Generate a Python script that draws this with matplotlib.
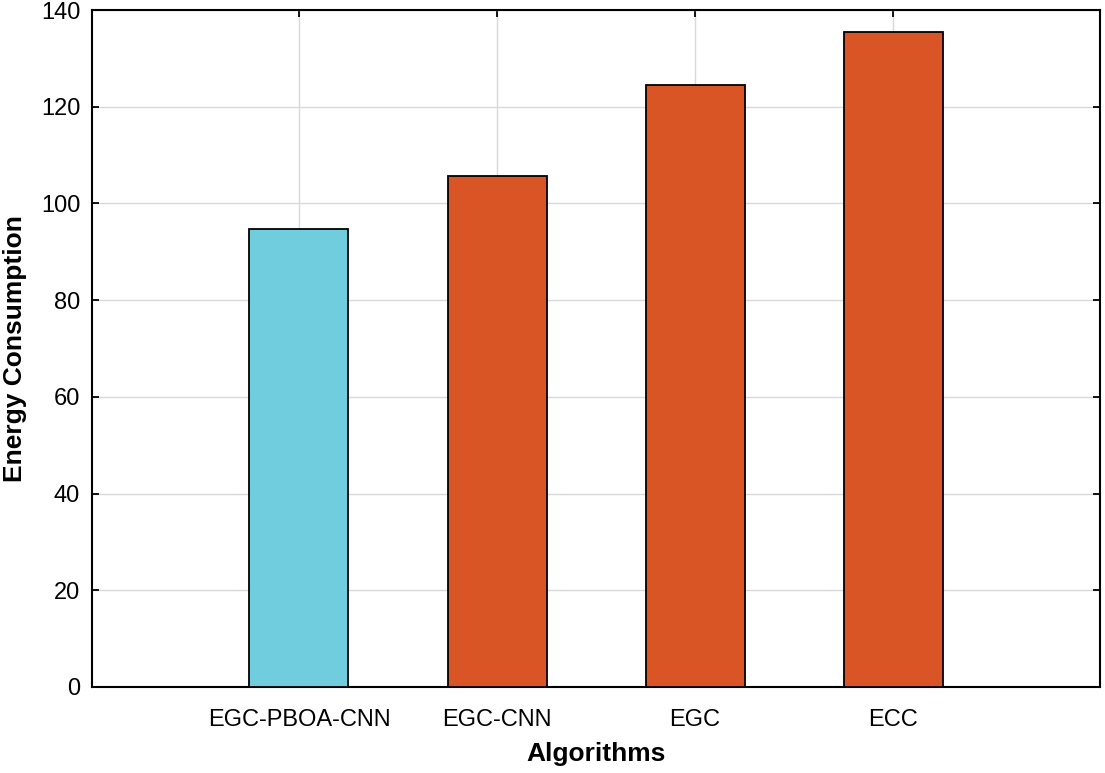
import numpy as np
import matplotlib.pyplot as plt

plt.rcParams['font.family'] = ['Liberation Sans', 'DejaVu Sans']

# data
algorithms = ['EGC-PBOA-CNN', 'EGC-CNN', 'EGC', 'ECC']
energy = [94.8, 105.6, 124.6, 135.4]
bar_colors = ['#6FCDDE', '#D95525', '#D95525', '#D95525']

fig = plt.figure(figsize=(11.05, 7.73), dpi=100)
ax = fig.add_axes([0.0833, 0.1113, 0.9122, 0.8757])

x = np.arange(1, len(algorithms) + 1)
ax.bar(x, energy, width=0.5, color=bar_colors, edgecolor='black', linewidth=1.3, zorder=3)

ax.set_xlim(-0.045, 5.045)
ax.set_ylim(0, 140)
ax.set_xticks(x)
ax.set_xticklabels(algorithms)
ax.set_yticks(np.arange(0, 141, 20))

ax.grid(True, color='#D9D9D9', linewidth=1, zorder=0)
ax.tick_params(direction='in', length=5, width=1.3, top=True, right=True, labelsize=17)
ax.tick_params(axis='x', pad=16)
ax.tick_params(axis='y', pad=8.5)
for s in ax.spines.values():
    s.set_linewidth(1.5)

ax.set_xlabel('Algorithms', fontsize=19, fontweight='bold', labelpad=8)
ax.set_ylabel('Energy Consumption', fontsize=19, fontweight='bold', labelpad=10)

plt.savefig('out.png', dpi=100)
